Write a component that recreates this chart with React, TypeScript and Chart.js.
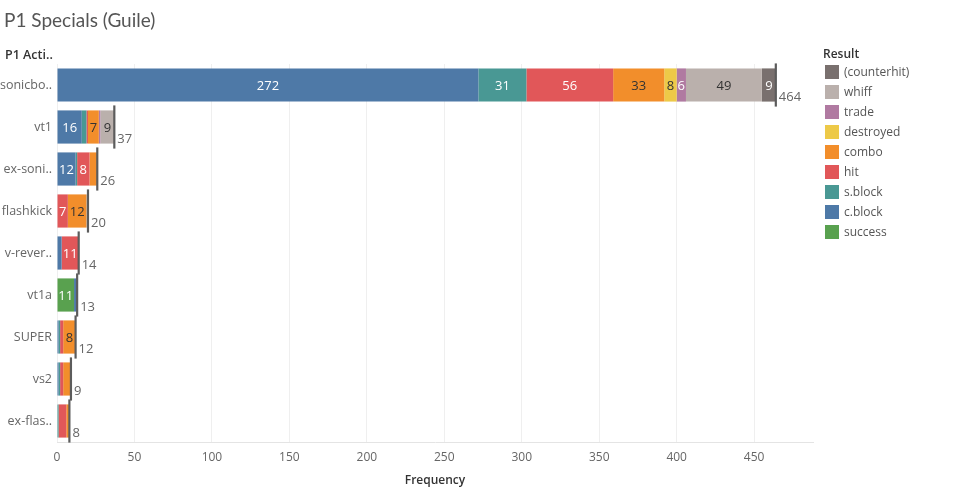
import React, { useEffect, useRef } from 'react';
import { Chart, registerables } from 'chart.js';

Chart.register(...registerables);

const categories = ['sonicbo..', 'vt1', 'ex-soni..', 'flashkick', 'v-rever..', 'vt1a', 'SUPER', 'vs2', 'ex-flas..'];

const success = [0, 0, 0, 0, 0, 11, 0, 0, 0];
const cBlock = [272, 16, 12, 0, 3, 2, 1, 1, 0];
const sBlock = [31, 3, 1, 0, 0, 0, 1, 1, 1];
const hit = [56, 1, 8, 7, 11, 0, 2, 2, 5];
const combo = [33, 7, 5, 12, 0, 0, 8, 5, 2];
const destroyed = [8, 0, 0, 0, 0, 0, 0, 0, 0];
const trade = [6, 1, 0, 0, 0, 0, 0, 0, 0];
const whiff = [49, 9, 0, 1, 0, 0, 0, 0, 0];
const counterhit = [9, 0, 0, 0, 0, 0, 0, 0, 0];

const xTicks = [0, 50, 100, 150, 200, 250, 300, 350, 400, 450];

const seriesNames = ['success', 'c.block', 's.block', 'hit', 'combo', 'destroyed', 'trade', 'whiff', '(counterhit)'];
const seriesData = [success, cBlock, sBlock, hit, combo, destroyed, trade, whiff, counterhit];
const seriesColors = ['#59A14F', '#4E79A7', '#499894', '#E15759', '#F28E2B', '#EDC948', '#B07AA1', '#BAB0AC', '#79706E'];
const labelColors = ['#ffffff', '#ffffff', '#ffffff', '#ffffff', '#333333', '#333333', '#ffffff', '#333333', '#ffffff'];

const FONT = '"Open Sans", sans-serif';

const segmentLabels = {
  id: 'segmentLabels',
  afterDatasetsDraw(chart: any) {
    const ctx = chart.ctx;
    ctx.save();
    ctx.font = `13px ${FONT}`;
    ctx.textAlign = 'center';
    ctx.textBaseline = 'middle';
    chart.data.datasets.forEach((ds: any, i: number) => {
      const meta = chart.getDatasetMeta(i);
      meta.data.forEach((el: any, j: number) => {
        const v = ds.data[j];
        if (!v || v < 6) return;
        const p = el.getProps(['x', 'base', 'y'], true);
        ctx.fillStyle = labelColors[i];
        ctx.fillText(String(v), (p.x + p.base) / 2, p.y + 1);
      });
    });
    ctx.restore();
  },
};

const totalsPlugin = {
  id: 'totals',
  afterDatasetsDraw(chart: any) {
    const ctx = chart.ctx;
    const xs = chart.scales.x;
    const ys = chart.scales.y;
    const meta0 = chart.getDatasetMeta(0);
    ctx.save();
    categories.forEach((_, j) => {
      const total = seriesData.reduce((s, arr) => s + arr[j], 0);
      const px = xs.getPixelForValue(total);
      const cy = ys.getPixelForValue(j);
      const el = meta0.data[j];
      const half = (el && el.height ? el.height : 33) / 2;
      ctx.strokeStyle = '#5c5c5c';
      ctx.lineWidth = 2.2;
      ctx.beginPath();
      ctx.moveTo(px, cy - half - 5);
      ctx.lineTo(px, cy + half + 5);
      ctx.stroke();
      ctx.fillStyle = '#666666';
      ctx.font = `13px ${FONT}`;
      ctx.textAlign = 'left';
      ctx.textBaseline = 'middle';
      ctx.fillText(String(total), px + 3, cy + 12);
    });
    ctx.restore();
  },
};

export default function App() {
  const ref = useRef<HTMLCanvasElement | null>(null);

  useEffect(() => {
    if (!ref.current) return;
    const chart = new Chart(ref.current, {
      type: 'bar',
      data: {
        labels: categories,
        datasets: seriesNames.map((name, i) => ({
          label: name,
          data: seriesData[i],
          backgroundColor: seriesColors[i],
          borderWidth: 0,
          barPercentage: 0.79,
          categoryPercentage: 1,
        })),
      },
      options: {
        indexAxis: 'y',
        responsive: false,
        animation: false,
        events: [],
        layout: { padding: { top: 64, right: 149, bottom: 0, left: 0 } },
        plugins: {
          legend: { display: false },
          tooltip: { enabled: false },
          title: { display: false },
        },
        scales: {
          x: {
            type: 'linear',
            stacked: true,
            min: 0,
            max: 488,
            afterBuildTicks(scale: any) {
              scale.ticks = xTicks.map((v) => ({ value: v }));
            },
            afterFit(scale: any) {
              scale.height = 55;
            },
            ticks: {
              color: '#666666',
              font: { family: FONT, size: 12 },
              padding: 8,
              maxRotation: 0,
            },
            grid: { color: '#efefef', drawTicks: false, lineWidth: 1 },
            border: { display: true, color: '#e4e4e4' },
            title: {
              display: true,
              text: 'Frequency',
              color: '#333333',
              font: { family: FONT, size: 12, weight: 600 },
              padding: { top: 4, bottom: 9 },
            },
          },
          y: {
            type: 'category',
            stacked: true,
            afterFit(scale: any) {
              scale.width = 57;
            },
            ticks: {
              color: '#666666',
              font: { family: FONT, size: 12.5 },
              padding: 5,
            },
            grid: { display: false, drawTicks: false },
            border: { display: false },
          },
        },
      },
      plugins: [segmentLabels, totalsPlugin],
    } as any);
    return () => chart.destroy();
  }, []);

  const legendItems = seriesNames.map((n, i) => ({ n, c: seriesColors[i] })).reverse();

  return (
    <div style={{ position: 'fixed', left: 0, top: 0, width: 962, height: 497, background: '#fff', fontFamily: FONT, overflow: 'hidden' }}>
      <canvas ref={ref} width={962} height={497} style={{ position: 'absolute', left: 0, top: 0, width: 962, height: 497 }} />
      <div style={{ position: 'absolute', left: 4, top: 6, fontSize: 19, fontFamily: 'Lato, sans-serif', color: '#555', lineHeight: '28px', whiteSpace: 'nowrap' }}>
        P1 Specials (Guile)
      </div>
      <div style={{ position: 'absolute', left: 5, top: 47, fontSize: 12.5, fontWeight: 600, color: '#333', lineHeight: '16px', whiteSpace: 'nowrap' }}>
        P1 Acti..
      </div>
      <div style={{ position: 'absolute', left: 823, top: 46, fontSize: 12, fontWeight: 600, color: '#333', lineHeight: '16px' }}>
        Result
      </div>
      {legendItems.map((it, k) => (
        <div key={it.n} style={{ position: 'absolute', left: 825, top: 64 + k * 20, height: 15, display: 'flex', alignItems: 'center', whiteSpace: 'nowrap' }}>
          <div style={{ width: 14, height: 14, background: it.c }} />
          <span style={{ marginLeft: 5, fontSize: 12, color: '#555', lineHeight: '14px' }}>{it.n}</span>
        </div>
      ))}
    </div>
  );
}
